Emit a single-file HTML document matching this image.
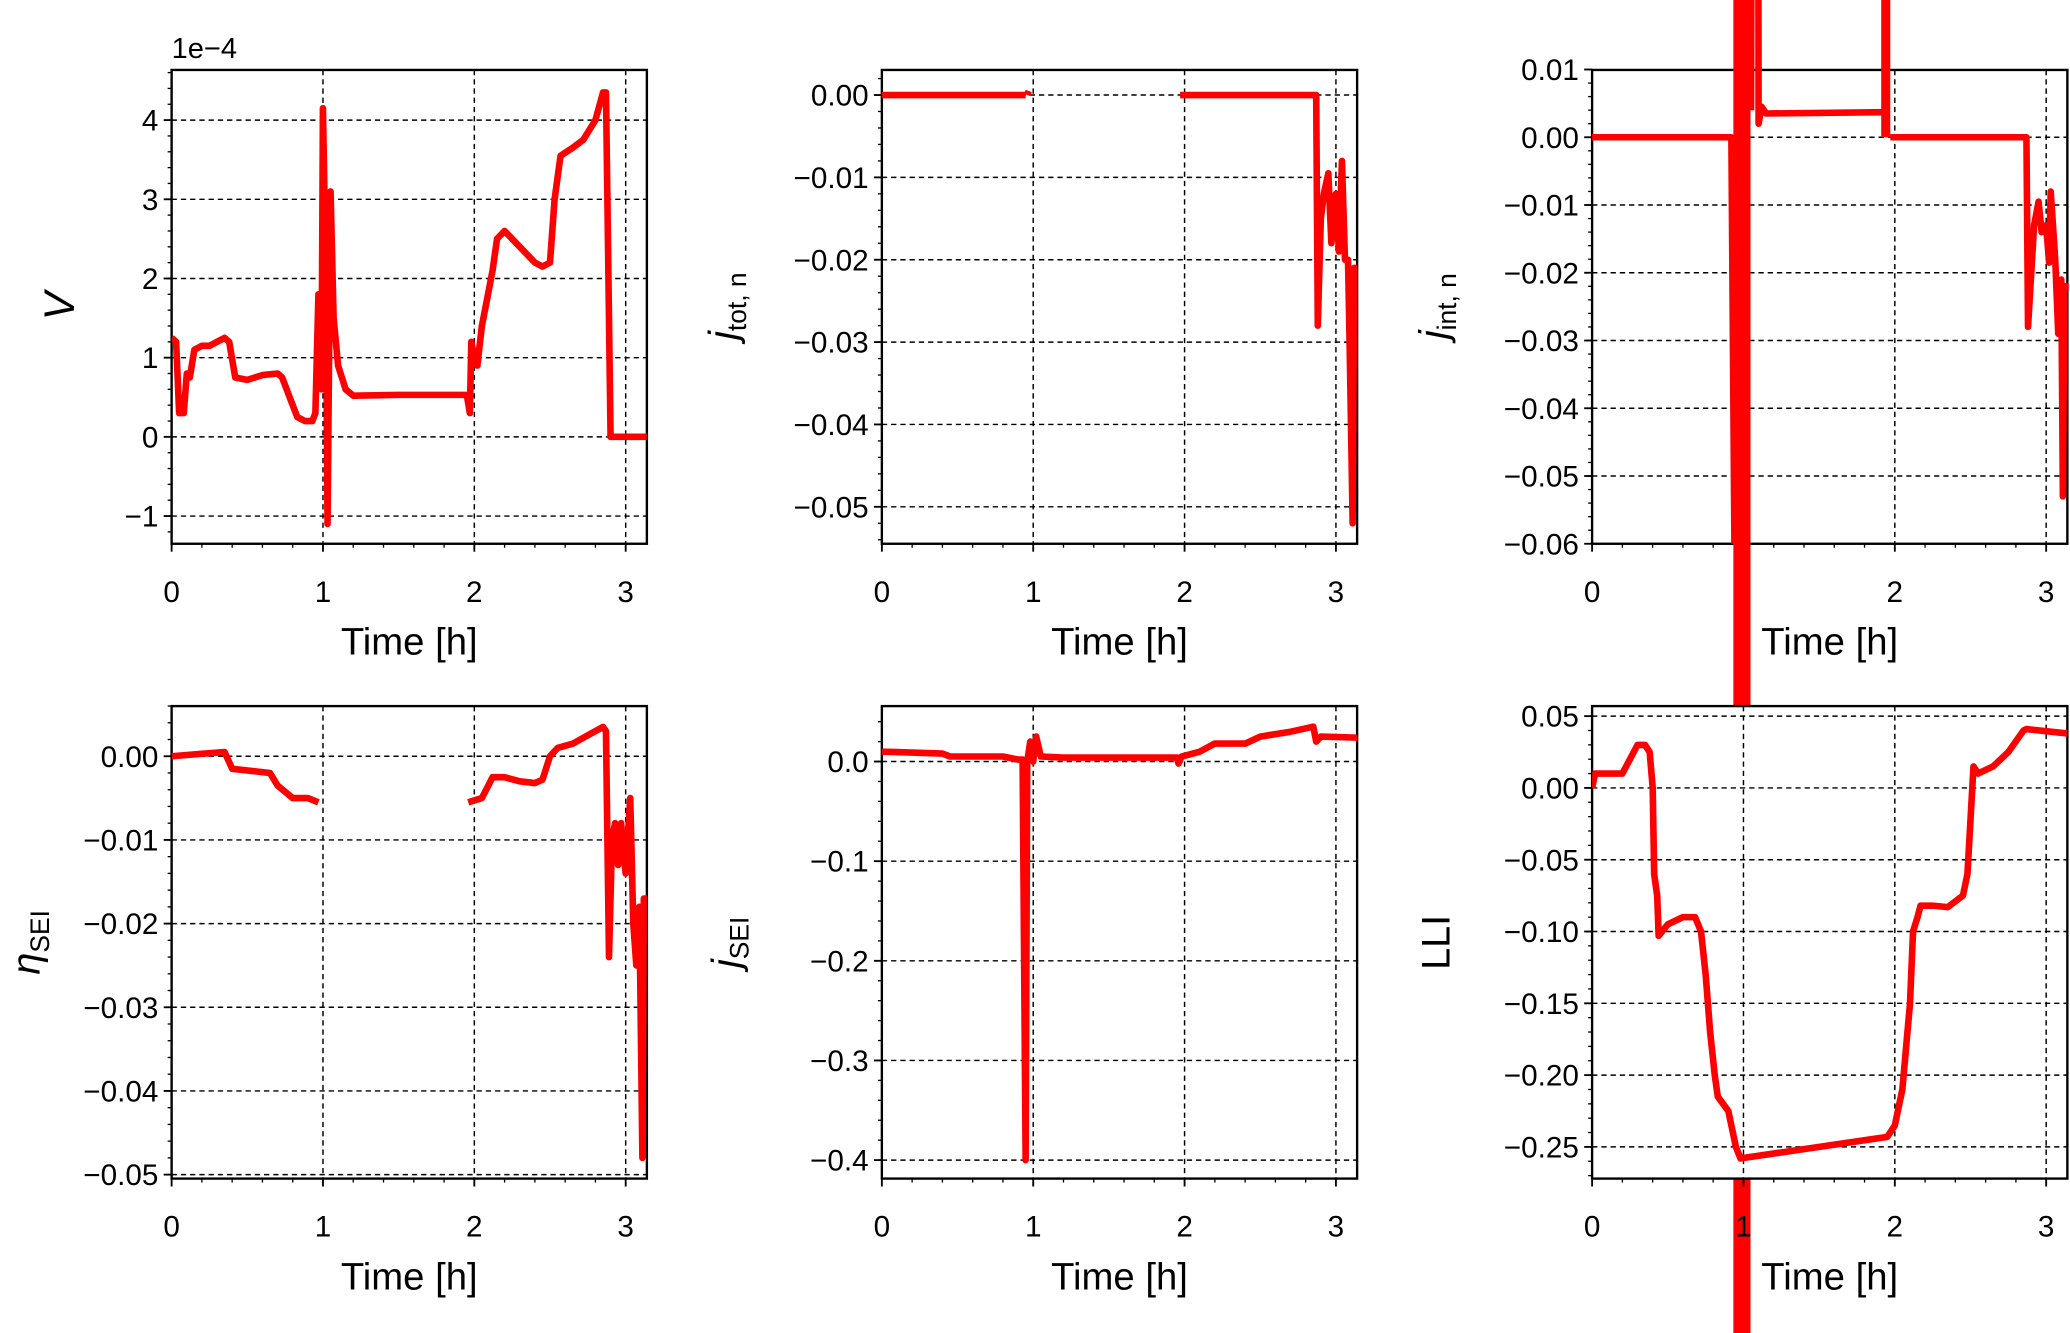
<!DOCTYPE html>
<html><head><meta charset="utf-8"><style>
html,body{margin:0;padding:0;background:#fff;}
svg{display:block;font-family:"Liberation Sans",sans-serif;}
</style></head><body>
<svg id="s" width="2070" height="1333" viewBox="0 0 1568 1010" preserveAspectRatio="none" xmlns="http://www.w3.org/2000/svg"></svg>
<script>
const S=document.getElementById('s');let out='';
function P(o){
 const {L,R,T,B,y0,p0,y1,p1,ymaj,ymin,labs,xmax}=o;
 const X=t=>L+t*(R-L)/3.14, Y=v=>p0+(v-y0)*(p1-p0)/(y1-y0);
 o.X=X;o.Y=Y;
 let s='';
 if(o.bg) s+=`<rect x="${L}" y="${T}" width="${R-L}" height="${B-T}" fill="#fff"/>`;
 for(let t=1;t<=3;t++) s+=`<line x1="${X(t)}" y1="${T}" x2="${X(t)}" y2="${B}" stroke="#000" stroke-width="1.1" stroke-dasharray="4,3"/>`;
 labs.forEach(([v,l])=>{const y=Y(v); if(y>T+1&&y<B-1) s+=`<line x1="${L}" y1="${y}" x2="${R}" y2="${y}" stroke="#000" stroke-width="1.1" stroke-dasharray="4,3"/>`;});
 const v0=labs[0][0];
 for(let k=-200;k<=200;k++){const v=v0+k*ymin;const y=Y(v);if(y>=T-0.5&&y<=B+0.5)s+=`<line x1="${L-3}" y1="${y}" x2="${L}" y2="${y}" stroke="#000" stroke-width="1"/>`;}
 for(let t=0;t<=3.14;t+=0.2){const x=X(t);s+=`<line x1="${x}" y1="${B}" x2="${x}" y2="${B+3}" stroke="#000" stroke-width="1"/>`;}
 labs.forEach(([v,l])=>{const y=Y(v);s+=`<line x1="${L-6}" y1="${y}" x2="${L}" y2="${y}" stroke="#000" stroke-width="1.4"/><text x="${L-10}" y="${y+8}" font-size="22.5" text-anchor="end">${l}</text>`;});
 for(let t=0;t<=3;t++){const x=X(t);s+=`<line x1="${x}" y1="${B}" x2="${x}" y2="${B+6}" stroke="#000" stroke-width="1.4"/>`;if(!(o.skip1&&t==1))s+=`<text x="${x}" y="${B+44}" font-size="22.5" text-anchor="middle">${t}</text>`;}
 s+=`<text x="${(L+R)/2}" y="${B+84}" font-size="29" text-anchor="middle">Time [h]</text>`;
 s+=`<rect x="${L}" y="${T}" width="${R-L}" height="${B-T}" fill="none" stroke="#000" stroke-width="1.8"/>`;
 return s;
}
function line(o,segs){let s='';segs.forEach(seg=>{s+=`<polyline fill="none" stroke="#f00" stroke-width="5" stroke-linejoin="round" points="${seg.map(([t,v])=>o.X(t).toFixed(1)+','+o.Y(v).toFixed(1)).join(' ')}"/>`;});return s;}
function clip(id,o){return `<clipPath id="${id}"><rect x="${o.L}" y="${o.T}" width="${o.R-o.L}" height="${o.B-o.T}"/></clipPath>`;}
const m='\u2212';
const p1={L:130,R:490,T:53,B:412,y0:0,p0:331,y1:4,p1:91,ymin:0.2,labs:[[-1,m+'1'],[0,'0'],[1,'1'],[2,'2'],[3,'3'],[4,'4']]};
const p2={L:668,R:1028,T:53,B:412,y0:0,p0:72,y1:-0.05,p1:384,ymin:0.002,labs:[[0,'0.00'],[-0.01,m+'0.01'],[-0.02,m+'0.02'],[-0.03,m+'0.03'],[-0.04,m+'0.04'],[-0.05,m+'0.05']]};
const p3={L:1206,R:1566,T:53,B:412,y0:0,p0:104,y1:-0.06,p1:412,ymin:0.002,skip1:true,labs:[[0.01,'0.01'],[0,'0.00'],[-0.01,m+'0.01'],[-0.02,m+'0.02'],[-0.03,m+'0.03'],[-0.04,m+'0.04'],[-0.05,m+'0.05'],[-0.06,m+'0.06']]};
const p4={L:130,R:490,T:535,B:893,y0:0,p0:573,y1:-0.05,p1:890,ymin:0.002,labs:[[0,'0.00'],[-0.01,m+'0.01'],[-0.02,m+'0.02'],[-0.03,m+'0.03'],[-0.04,m+'0.04'],[-0.05,m+'0.05']]};
const p5={L:668,R:1028,T:535,B:893,y0:0,p0:577,y1:-0.4,p1:879,ymin:0.02,labs:[[0,'0.0'],[-0.1,m+'0.1'],[-0.2,m+'0.2'],[-0.3,m+'0.3'],[-0.4,m+'0.4']]};
const p6={L:1206,R:1566,T:535,B:893,y0:0,p0:597,y1:-0.25,p1:869,ymin:0.01,bg:true,labs:[[0.05,'0.05'],[0,'0.00'],[-0.05,m+'0.05'],[-0.10,m+'0.10'],[-0.15,m+'0.15'],[-0.20,m+'0.20'],[-0.25,m+'0.25']]};
out+='<defs>'+[p1,p2,p4,p5,p6].map((o,i)=>clip('c'+i,o)).join('')+'</defs>';
out+=P(p1)+P(p2)+P(p3)+P(p4)+P(p5);
out+=`<g clip-path="url(#c0)">`+line(p1,[[[0,1.25],[0.03,1.2],[0.05,0.3],[0.08,0.3],[0.1,0.8],[0.12,0.75],[0.15,1.1],[0.2,1.15],[0.25,1.15],[0.3,1.2],[0.35,1.25],[0.38,1.2],[0.42,0.75],[0.5,0.72],[0.6,0.78],[0.7,0.8],[0.73,0.75],[0.78,0.5],[0.83,0.25],[0.88,0.2],[0.93,0.2],[0.95,0.3],[0.97,1.8],[0.99,0.6],[1.0,4.15],[1.02,2],[1.03,-1.1],[1.05,3.1],[1.07,1.5],[1.1,0.9],[1.15,0.6],[1.2,0.52],[1.5,0.53],[1.95,0.53],[1.97,0.3],[1.98,1.2],[2.0,1.0],[2.02,0.9],[2.05,1.4],[2.08,1.7],[2.12,2.1],[2.15,2.5],[2.2,2.6],[2.3,2.4],[2.4,2.2],[2.45,2.15],[2.5,2.2],[2.53,3.0],[2.57,3.55],[2.65,3.65],[2.72,3.75],[2.8,4.0],[2.85,4.35],[2.87,4.35],[2.9,0],[3.14,0]]])+'</g>';
out+=`<g clip-path="url(#c1)">`+line(p2,[[[0,0],[0.95,0]],[[0.96,0],[0.97,0.0005]],[[1.97,0],[2.87,0],[2.88,-0.028],[2.9,-0.015],[2.92,-0.012],[2.95,-0.0095],[2.97,-0.018],[3.0,-0.012],[3.02,-0.019],[3.04,-0.008],[3.06,-0.02],[3.08,-0.02],[3.09,-0.03],[3.11,-0.052],[3.12,-0.021],[3.14,-0.021]]])+'</g>';
out+=line(p3,[[[0,0],[0.4,0],[0.5,0],[0.92,0],[0.94,-0.06]],[[1.05,0.004],[1.07,0.2],[1.09,0.2],[1.1,0.002],[1.12,0.0045],[1.15,0.0035],[1.93,0.0037]],[[1.97,0],[2.87,0],[2.88,-0.028],[2.92,-0.013],[2.95,-0.0095],[2.97,-0.014],[3.0,-0.013],[3.02,-0.0185],[3.03,-0.008],[3.06,-0.018],[3.08,-0.029],[3.1,-0.021],[3.11,-0.053],[3.12,-0.022],[3.15,-0.022]]]);
out+=`<rect x="${p3.X(1.91)}" y="0" width="${p3.X(1.97)-p3.X(1.91)}" height="${p3.Y(0)}" fill="#f00"/>`;
out+=`<g clip-path="url(#c2)">`+line(p4,[[[0,0],[0.2,0.0003],[0.35,0.0005],[0.4,-0.0015],[0.65,-0.002],[0.7,-0.0035],[0.8,-0.005],[0.9,-0.005],[0.97,-0.0055]],[[1.96,-0.0055],[2.05,-0.005],[2.12,-0.0025],[2.2,-0.0025],[2.3,-0.003],[2.4,-0.0032],[2.45,-0.0028],[2.5,0.0],[2.55,0.001],[2.65,0.0015],[2.75,0.0025],[2.85,0.0035],[2.87,0.003],[2.89,-0.024],[2.91,-0.01],[2.93,-0.008],[2.95,-0.013],[2.97,-0.008],[3.0,-0.014],[3.03,-0.005],[3.05,-0.02],[3.07,-0.025],[3.09,-0.018],[3.11,-0.048],[3.12,-0.017],[3.16,-0.017]]])+'</g>';
out+=`<g clip-path="url(#c3)">`+line(p5,[[[0,0.01],[0.4,0.008],[0.45,0.005],[0.8,0.005],[0.9,0.002],[0.93,0.002],[0.95,-0.4],[0.96,0.0],[0.98,0.02],[1.0,0],[1.02,0.025],[1.05,0.005],[1.2,0.004],[1.95,0.004],[1.96,-0.002],[1.98,0.005],[2.1,0.01],[2.2,0.018],[2.4,0.018],[2.5,0.025],[2.7,0.03],[2.85,0.035],[2.87,0.02],[2.9,0.025],[3.14,0.024]]])+'</g>';
out+=`<rect x="1313" y="0" width="13" height="1010" fill="#f00"/>`;
out+=P(p6);
out+=`<g clip-path="url(#c4)">`+line(p6,[[[0,0.0],[0.02,0.01],[0.2,0.01],[0.25,0.02],[0.3,0.03],[0.35,0.03],[0.38,0.025],[0.4,0.0],[0.41,-0.06],[0.43,-0.075],[0.44,-0.103],[0.5,-0.095],[0.6,-0.09],[0.68,-0.09],[0.72,-0.1],[0.75,-0.13],[0.78,-0.17],[0.81,-0.2],[0.83,-0.215],[0.9,-0.225],[0.95,-0.25],[0.98,-0.258],[1.5,-0.25],[1.95,-0.243],[2.0,-0.235],[2.05,-0.21],[2.1,-0.15],[2.12,-0.1],[2.15,-0.09],[2.17,-0.082],[2.25,-0.082],[2.35,-0.083],[2.45,-0.075],[2.48,-0.06],[2.52,0.015],[2.55,0.01],[2.65,0.015],[2.75,0.025],[2.85,0.04],[2.87,0.041],[3.14,0.038]]])+'</g>';
out+=`<text x="130" y="44" font-size="22">1e${m}4</text>`;
out+=`<text transform="translate(56,232) rotate(-90)" font-size="32" font-style="italic" text-anchor="middle">V</text>`;
out+=`<text transform="translate(558,232) rotate(-90)" font-size="30" text-anchor="middle"><tspan font-style="italic">j</tspan><tspan font-size="20" dy="7">tot, n</tspan></text>`;
out+=`<text transform="translate(1096,232) rotate(-90)" font-size="30" text-anchor="middle"><tspan font-style="italic">j</tspan><tspan font-size="20" dy="7">int, n</tspan></text>`;
out+=`<text transform="translate(30,714) rotate(-90)" font-size="30" text-anchor="middle"><tspan font-style="italic">η</tspan><tspan font-size="20" dy="7">SEI</tspan></text>`;
out+=`<text transform="translate(560,714) rotate(-90)" font-size="30" text-anchor="middle"><tspan font-style="italic">j</tspan><tspan font-size="20" dy="7">SEI</tspan></text>`;
out+=`<text transform="translate(1098,714) rotate(-90)" font-size="30" text-anchor="middle">LLI</text>`;
S.innerHTML=out;
</script>
</body></html>
